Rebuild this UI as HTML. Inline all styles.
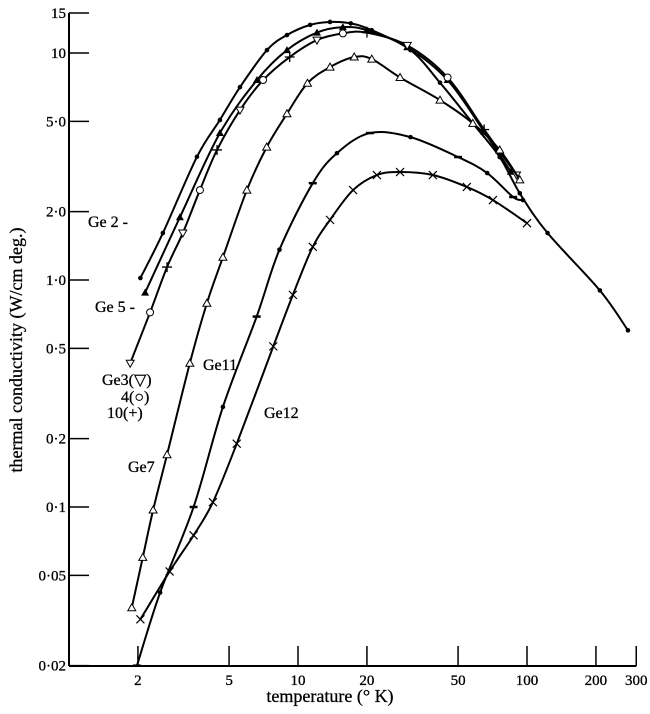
<!DOCTYPE html>
<html><head><meta charset="utf-8"><style>
body{margin:0;background:#fff;}
svg{display:block;font-family:"Liberation Serif",serif;}
</style></head><body>
<svg id="chart" width="650" height="714" viewBox="0 0 650 714">
<g id="axes"></g>
<g id="series"></g>
<g id="labels" font-size="16" fill="#000" stroke="#000" stroke-width="0.3">
<text x="88" y="227">Ge 2 -</text>
<text x="95" y="312">Ge 5 -</text>
<text x="102" y="385">Ge3(▽)</text>
<text x="121" y="402">4(○)</text>
<text x="107" y="418">10(+)</text>
<text x="128" y="472">Ge7</text>
<text x="203" y="370">Ge11</text>
<text x="264" y="418">Ge12</text>
</g>
<text x="330" y="702" font-size="18" text-anchor="middle" stroke="#000" stroke-width="0.3">temperature (° K)</text>
<text transform="translate(22,350) rotate(-90)" font-size="18" text-anchor="middle" stroke="#000" stroke-width="0.3">thermal conductivity (W/cm deg.)</text>
</svg>
<script>
const xTicks=[2,5,10,20,50,100,200,300];
const yTicks=[15,10,5,2,1,0.5,0.2,0.1,0.05,0.02];
const yTickLabels=["15","10","5·0","2·0","1·0","0·5","0·2","0·1","0·05","0·02"];
const ge2T=[2.05,2.57,3.62,4.56,5.58,7.32,8.95,11.3,13.8,17,21,31,41.7,58,76,93,123,208,276];
const ge2K=[1.02,1.61,3.49,5.07,7.07,10.3,12.0,13.3,13.7,13.5,12.6,10.3,7.4,4.9,3.48,2.41,1.61,0.9,0.6];
const ge5T=[2.15,3.05,4.56,6.62,8.95,12.1,15.7,20,30,45,65,85];
const ge5K=[0.88,1.89,4.44,7.6,10.3,12.3,13.0,12.6,10.6,7.6,4.5,3.0];
const ge3T=[1.85,2.26,2.68,3.14,3.73,4.43,5.58,7.04,9.2,12.1,15.7,20,30,45,65,90];
const ge3K=[0.43,0.72,1.14,1.61,2.49,3.74,5.6,7.6,9.6,11.4,12.2,12.3,10.8,7.8,4.6,2.9];
const ge7T=[1.88,2.1,2.33,2.68,3.37,4.0,4.7,5.98,7.3,8.95,11,13.8,17.6,21,27.9,41.7,58,76,93];
const ge7K=[0.036,0.06,0.097,0.17,0.43,0.79,1.26,2.49,3.85,5.4,7.36,8.67,9.6,9.4,7.8,6.2,4.9,3.74,2.76];
const ge11T=[1.98,2.5,3.5,4.7,6.6,8.3,11.6,14.8,20.6,31,50,67,87,96];
const ge11K=[0.02,0.042,0.1,0.276,0.69,1.36,2.67,3.62,4.44,4.26,3.48,2.96,2.32,2.25];
const ge12T=[2.05,2.75,3.5,4.25,5.4,7.8,9.5,11.6,13.8,17.4,22.1,27.9,38.8,54.6,71,100];
const ge12K=[0.032,0.052,0.075,0.105,0.19,0.51,0.86,1.4,1.84,2.49,2.9,2.99,2.9,2.57,2.25,1.78];

const NS="http://www.w3.org/2000/svg";
const X0=69,Y0=666;
function xs(t){return 298+229*Math.log10(t/10);}
function ys(k){return 280-227*Math.log10(k);}
function mk(tag,attrs,parent){const e=document.createElementNS(NS,tag);for(const a in attrs)e.setAttribute(a,attrs[a]);parent.appendChild(e);return e;}
const axes=document.getElementById('axes');
const yl=mk('line',{x1:X0,y1:ys(15),x2:X0,y2:Y0,stroke:'#000','stroke-width':2},axes);


const xl=mk('line',{x1:X0,y1:Y0,x2:xs(300),y2:Y0,stroke:'#000','stroke-width':2},axes);


xTicks.forEach(t=>{
  const l=mk('line',{x1:xs(t),y1:Y0,x2:xs(t),y2:Y0-20,stroke:'#000','stroke-width':1.5},axes);
  
  
  const tx=mk('text',{x:xs(t),y:Y0+19,'font-size':15,'text-anchor':'middle',stroke:'#000','stroke-width':0.3},axes);
  tx.textContent=t;
  
  
});
yTicks.forEach((v,i)=>{
  const y=ys(v);
  const l=mk('line',{x1:X0,y1:y,x2:X0+20,y2:y,stroke:'#000','stroke-width':1.5},axes);
  
  
  const tx=mk('text',{x:X0-3,y:y+5,'font-size':15,'text-anchor':'end',stroke:'#000','stroke-width':0.3},axes);
  tx.textContent=yTickLabels[i];
  
  
});
const sg=document.getElementById('series');
function path(T,K){
  const p=T.map((t,i)=>[xs(t),ys(K[i])]);
  let d='M'+p[0][0]+','+p[0][1];
  for(let i=0;i<p.length-1;i++){
    const a=p[Math.max(0,i-1)],b=p[i],c=p[i+1],e=p[Math.min(p.length-1,i+2)];
    const c1=[b[0]+(c[0]-a[0])/6,b[1]+(c[1]-a[1])/6],c2=[c[0]-(e[0]-b[0])/6,c[1]-(e[1]-b[1])/6];
    d+=' C'+c1+' '+c2+' '+c;
  }
  return d;
}
function marker(type,x,y,g){
  let e;
  if(type==='dot')e=mk('circle',{cx:x,cy:y,r:2.3,fill:'#000'},g);
  else if(type==='ftri')e=mk('path',{d:`M${x},${y-4}L${x+4},${y+3}L${x-4},${y+3}Z`,fill:'#000'},g);
  else if(type==='otri')e=mk('path',{d:`M${x},${y-4}L${x+4},${y+3}L${x-4},${y+3}Z`,fill:'#fff',stroke:'#000','stroke-width':1},g);
  else if(type==='vtri')e=mk('path',{d:`M${x-4},${y-3}L${x+4},${y-3}L${x},${y+4}Z`,fill:'#fff',stroke:'#000','stroke-width':1},g);
  else if(type==='circ')e=mk('circle',{cx:x,cy:y,r:3.5,fill:'#fff',stroke:'#000','stroke-width':1},g);
  else if(type==='plus')e=mk('path',{d:`M${x-5},${y}H${x+5}M${x},${y-5}V${y+5}`,stroke:'#000','stroke-width':1.3},g);
  else if(type==='cross')e=mk('path',{d:`M${x-4},${y-4}L${x+4},${y+4}M${x-4},${y+4}L${x+4},${y-4}`,stroke:'#000','stroke-width':1.2},g);
  else if(type==='dash')e=mk('path',{d:`M${x-4},${y}H${x+4}`,stroke:'#000','stroke-width':2.5},g);
  
  
}
function series(name,T,K,types){
  const g=mk('g',{},sg);
  
  
  const pth=mk('path',{d:path(T,K),fill:'none',stroke:'#000','stroke-width':2},g);
  
  
  T.forEach((t,i)=>marker(types[i%types.length],xs(t),ys(K[i]),g));
}
series('series-ge2',ge2T,ge2K,['dot']);
series('series-ge5',ge5T,ge5K,['ftri']);
series('series-ge3-4-10',ge3T,ge3K,['vtri','circ','plus']);
series('series-ge7',ge7T,ge7K,['otri']);
series('series-ge11',ge11T,ge11K,['dash','dot']);
series('series-ge12',ge12T,ge12K,['cross']);
</script>
</body></html>
